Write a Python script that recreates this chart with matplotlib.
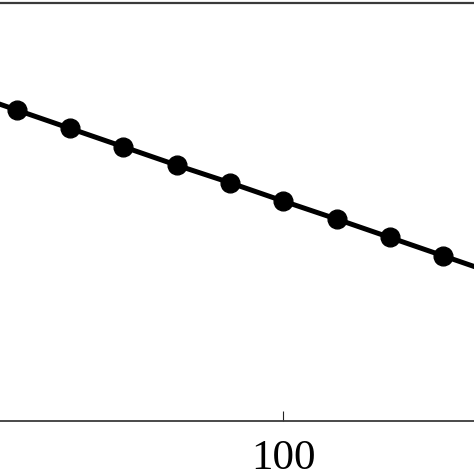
import matplotlib.pyplot as plt

# data (only the x tick at 100 is visible)
x_vals = [40, 50, 60, 70, 80, 90, 100, 110, 120, 130, 140]
y_vals = [0.788, 0.744, 0.700, 0.656, 0.612, 0.570, 0.526, 0.483, 0.439, 0.395, 0.351]
x_ticks = [100]

plt.rcParams['font.family'] = 'Liberation Serif'

fig = plt.figure(figsize=(4.74, 4.74), dpi=100)
# the reference is a crop: left and right spines sit outside the picture
ax = fig.add_axes([-0.5274, 0.1118, 2.2504, 0.8819])

ax.plot(x_vals, y_vals, color='black', lw=3.6, marker='o', ms=13.5,
        markerfacecolor='black', markeredgecolor='black')

ax.set_xlim(0, 200)
ax.set_ylim(0, 1)
ax.set_xticks(x_ticks)
ax.set_yticks([])

for side in ['top', 'bottom']:
    ax.spines[side].set_color('#3a3a3a')
ax.spines['top'].set_linewidth(1.6)
ax.spines['bottom'].set_linewidth(1.3)

ax.tick_params(axis='x', direction='in', length=7, width=0.8, color='#222222',
               pad=13, labelsize=31)

plt.savefig('out.png', dpi=100)
